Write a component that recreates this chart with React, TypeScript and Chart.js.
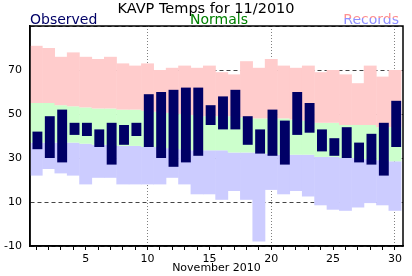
import React, { useEffect, useRef } from 'react';
import { Chart, registerables } from 'chart.js';

Chart.register(...registerables);

const TITLE = 'KAVP Temps for 11/2010';
const X_TITLE = 'November 2010';
const LABEL_OBS = 'Observed';
const LABEL_NORM = 'Normals';
const LABEL_REC = 'Records';

const days = [1, 2, 3, 4, 5, 6, 7, 8, 9, 10, 11, 12, 13, 14, 15, 16, 17, 18, 19, 20, 21, 22, 23, 24, 25, 26, 27, 28, 29, 30];

const recordHigh = [81, 80, 76, 78, 76, 75, 76, 73, 72, 73, 70, 71, 72, 71, 72, 69, 68, 74, 71, 75, 72, 71, 72, 69, 70, 68, 64, 72, 67, 70];
const normalHigh = [55, 55, 54, 53.5, 53, 52.5, 52.5, 52, 52, 51.5, 51, 50.5, 50, 49.5, 49, 49, 49, 48.5, 48, 48, 48, 47.5, 47, 46, 46, 45, 45, 45, 44, 44];
const normalLow = [37, 37, 37, 37, 36.5, 36, 36, 35.5, 35.5, 35, 35, 34.5, 34, 33.5, 33.5, 33.5, 32.5, 32.5, 32.5, 32, 31.5, 31.5, 31.5, 30.5, 30.5, 30, 30, 29.5, 29, 28.5];
const recordLow = [22, 25, 23, 22, 18, 21, 21, 18, 18, 18, 18, 21, 18, 13.5, 13.5, 11, 15, 11, -8, 15.5, 13.5, 15, 12.5, 8.5, 6.5, 6, 7.5, 9.5, 8.5, 6];

const obsHigh = [42, 49, 52, 46, 46, 43, 46, 45, 46, 59, 60, 61, 62, 62, 54, 58, 61, 49, 43, 52, 47, 60, 55, 43, 39, 44, 37, 41, 46, 56];
const obsLow = [34, 30, 28, 40.5, 40, 35, 27, 36, 40, 35, 30, 26, 28, 31, 45, 43, 43, 36, 32, 31, 27, 40.5, 41.5, 33, 31, 30, 28, 27, 22, 35];

const yTicksHidden = [90];

const FONT = 'DejaVu Sans';

export default function App() {
  const ref = useRef<HTMLCanvasElement>(null);

  useEffect(() => {
    document.body.style.margin = '0';
    const canvas = ref.current;
    if (!canvas) return;

    const toPts = (lo: number[], hi: number[]) => days.map((d, i) => ({ x: d, y: [lo[i], hi[i]] }));

    const headerPlugin = {
      id: 'header',
      afterDraw(chart: any) {
        const c = chart.ctx as CanvasRenderingContext2D;
        const a = chart.chartArea;
        c.save();
        c.strokeStyle = '#000';
        c.lineWidth = 1.5;
        c.strokeRect(a.left, a.top, a.right - a.left, a.bottom - a.top);

        c.textBaseline = 'alphabetic';
        c.font = `14.5px "${FONT}"`;
        c.fillStyle = '#000';
        c.textAlign = 'center';
        c.fillText(TITLE, chart.width / 2, 13);

        c.font = `14px "${FONT}"`;
        c.textAlign = 'left';
        c.fillStyle = '#000066';
        c.fillText(LABEL_OBS, a.left, 24);

        c.textAlign = 'center';
        c.fillStyle = '#008000';
        c.fillText(LABEL_NORM, (a.left + a.right) / 2 + 2.5, 24);

        const g = c.createLinearGradient(0, 13, 0, 24);
        g.addColorStop(0, '#ff8f8f');
        g.addColorStop(0.5, '#ff8f8f');
        g.addColorStop(0.5, '#8f8fff');
        g.addColorStop(1, '#8f8fff');
        c.textAlign = 'right';
        c.fillStyle = g;
        c.fillText(LABEL_REC, a.right - 4, 24);
        c.restore();
      },
    };

    const chart = new Chart(canvas, {
      type: 'bar',
      data: {
        datasets: [
          {
            label: 'Observed',
            data: toPts(obsLow, obsHigh) as any,
            backgroundColor: '#000066',
            borderWidth: 0,
            barPercentage: 0.8,
            categoryPercentage: 1,
            grouped: false,
            xAxisID: 'xb',
          } as any,
          {
            label: 'Record high',
            data: toPts(normalHigh, recordHigh) as any,
            backgroundColor: '#ffcccc',
            borderWidth: 0,
            barPercentage: 1.04,
            categoryPercentage: 1,
            grouped: false,
            xAxisID: 'x',
          },
          {
            label: 'Normal',
            data: toPts(normalLow, normalHigh) as any,
            backgroundColor: '#ccffcc',
            borderWidth: 0,
            barPercentage: 1.04,
            categoryPercentage: 1,
            grouped: false,
            xAxisID: 'x',
          },
          {
            label: 'Record low',
            data: toPts(recordLow, normalLow) as any,
            backgroundColor: '#ccccff',
            borderWidth: 0,
            barPercentage: 1.04,
            categoryPercentage: 1,
            grouped: false,
            xAxisID: 'x',
          },
        ],
      },
      options: {
        responsive: false,
        animation: false,
        devicePixelRatio: 1,
        layout: { padding: { top: 26, right: 9, left: 0, bottom: 0 } },
        plugins: {
          legend: { display: false },
          tooltip: { enabled: false },
          title: { display: false },
        },
        scales: {
          x: {
            type: 'linear',
            offset: false,
            min: 0.5,
            max: 30.65,
            z: 1,
            afterFit: (s: any) => {
              s.height = 30;
            },
            ticks: {
              stepSize: 1,
              includeBounds: false,
              autoSkip: false,
              maxRotation: 0,
              minRotation: 0,
              padding: 3,
              color: '#000',
              font: { family: FONT, size: 11 },
              callback: (v: any) => (Number(v) % 5 === 0 ? String(v) : ''),
            },
            grid: {
              offset: false,
              color: (c: any) => (c.tick && c.tick.value % 10 === 0 ? '#808080' : 'rgba(0,0,0,0)'),
              lineWidth: 1,
              drawTicks: true,
              tickLength: 4,
              tickColor: '#000',
              tickWidth: 1,
            },
            border: { display: true, color: '#000', width: 1.5, dash: [1, 2] },
            title: {
              display: true,
              text: X_TITLE,
              color: '#000',
              font: { family: FONT, size: 11 },
              padding: { top: 0, bottom: 1.5 },
            },
          } as any,
          xb: {
            type: 'linear',
            display: false,
            offset: false,
            min: 0.4,
            max: 30.55,
            ticks: { stepSize: 1, includeBounds: false },
          } as any,
          y: {
            min: -10,
            max: 90,
            z: 1,
            afterFit: (s: any) => {
              s.width = 30;
            },
            ticks: {
              stepSize: 20,
              padding: 8,
              color: '#000',
              font: { family: FONT, size: 11 },
              callback: (v: any) => (yTicksHidden.includes(Number(v)) ? '' : String(v)),
            },
            grid: { color: '#444', drawTicks: false, lineWidth: 1 },
            border: { display: true, color: '#000', width: 1.5, dash: [4, 3] },
          } as any,
        },
      },
      plugins: [headerPlugin],
    });

    return () => chart.destroy();
  }, []);

  return (
    <div style={{ width: 412, height: 276, background: '#fff' }}>
      <canvas ref={ref} width={412} height={276} style={{ display: 'block' }} />
    </div>
  );
}
